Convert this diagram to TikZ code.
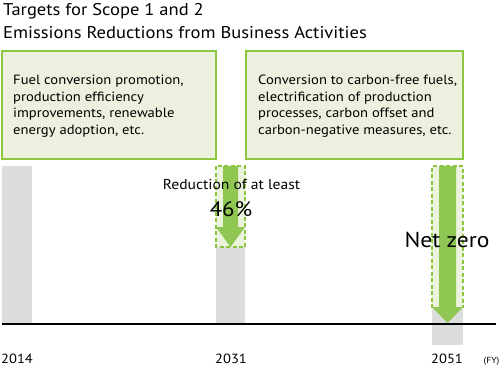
\documentclass[tikz,border=0pt]{standalone}
\usepackage{fontspec}
\setmainfont{PT Sans}[FakeStretch=1.09]
\definecolor{boxgreen}{RGB}{140,198,63}
\definecolor{boxfill}{RGB}{235,241,222}
\definecolor{arrowgreen}{RGB}{143,199,82}
\definecolor{lightfill}{RGB}{235,243,221}
\definecolor{bargray}{RGB}{220,221,221}
\tikzset{
  infobox/.style={draw=boxgreen, line width=1.5pt, fill=boxfill},
  infotext/.style={anchor=base west, align=left, inner sep=0pt, font=\fontsize{13.4}{16.4}\selectfont},
  bar/.style={fill=bargray, draw=none},
  dashbox/.style={draw=boxgreen, line width=1.5pt, dash pattern=on 4pt off 2.5pt},
  greenarrow/.style={fill=arrowgreen, draw=none},
  yearlabel/.style={anchor=base, inner sep=0pt, font=\fontsize{13.3}{16}\selectfont}
}
\begin{document}
\begin{tikzpicture}[x=1pt,y=-1pt]
\useasboundingbox (0,0) rectangle (500,368);
% title
\node[anchor=base west, inner sep=0pt, font=\fontsize{17}{20}\selectfont] (t1) at (3,15) {Targets for Scope 1 and 2};
\node[anchor=base west, inner sep=0pt, font=\fontsize{17}{20}\selectfont] (t2) at (3,38) {Emissions Reductions from Business Activities};
% boxes
\draw[infobox] (2,51) rectangle (216,159);
\draw[infobox] (246,51) rectangle (463,159);
\node[infotext] (lt) at (13,134) {Fuel conversion promotion,\\production efficiency\\improvements, renewable\\energy adoption, etc.};
\node[infotext] (rt) at (258,134) {Conversion to carbon-free fuels,\\electrification of production\\processes, carbon offset and\\carbon-negative measures, etc.};
% bars
\fill[bar] (2,166) rectangle (32,324);
\fill[bar] (216,247) rectangle (245,324);
\fill[bar] (432,309) rectangle (463,345);
% axis
\draw[line width=1.5pt] (2,324) -- (496,324);
% dashed boxes
\fill[lightfill] (216,166) rectangle (245,247);
\fill[lightfill] (432,166) rectangle (463,308);
% arrows
\fill[greenarrow] (223,166) -- (238,166) -- (238,227) -- (245,227) -- (230.5,247) -- (216,227) -- (223,227) -- cycle;
\fill[greenarrow] (439,166) -- (456,166) -- (456,307) -- (463,307) -- (447.5,323) -- (432,307) -- (439,307) -- cycle;
\draw[dashbox] (216,166) rectangle (245,247);
\draw[dashbox] (432,308) -- (432,166) -- (463,166) -- (463,308);
% labels
\node[anchor=base, inner sep=0pt, font=\fontsize{14.3}{16}\selectfont] (red) at (231.5,189) {Reduction of at least};
\node[anchor=base, inner sep=0pt, font=\fontsize{20.9}{22}\selectfont] (pct) at (231,216) {46\%};
\node[anchor=base, inner sep=0pt, font=\fontsize{21.6}{26}\selectfont] (nz) at (447,247) {Net zero};
\node[yearlabel] (y1) at (17,363) {2014};
\node[yearlabel] (y2) at (231,363) {2031};
\node[yearlabel] (y3) at (447,363) {2051};
\node[anchor=base, inner sep=0pt, font=\fontsize{8.8}{10}\selectfont] (fy) at (491.5,363) {(FY)};
\end{tikzpicture}
\end{document}
